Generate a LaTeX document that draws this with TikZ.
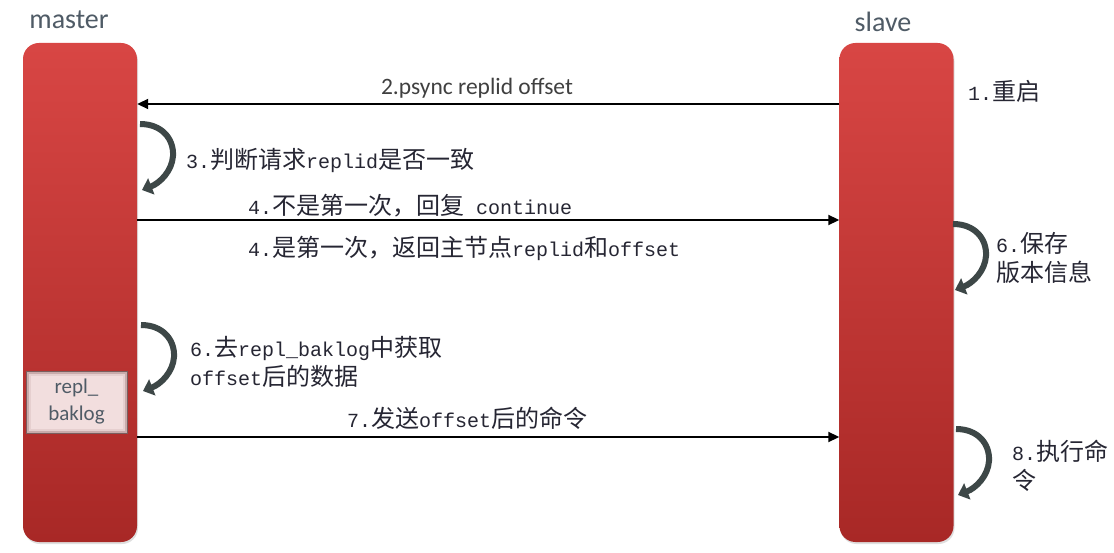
\documentclass[tikz,border=0pt]{standalone}
\usepackage{fontspec}
\setmainfont{Carlito}
\newfontfamily\cjk{Noto Sans CJK SC}
\newfontfamily\mono[Scale=0.8333]{Liberation Mono}
\usetikzlibrary{arrows.meta,shadows,calc}
\definecolor{bartop}{HTML}{D84644}
\definecolor{barbot}{HTML}{A82826}
\definecolor{curvc}{HTML}{3D4747}
\definecolor{txtc}{HTML}{262633}
\definecolor{ttlc}{HTML}{4F5B66}
\definecolor{lblc}{HTML}{404040}
\definecolor{bakfill}{HTML}{F2DEDE}
\definecolor{bakedge}{HTML}{7A5E5E}
\definecolor{bakmid}{HTML}{C9ABAB}
\definecolor{bakin}{HTML}{E6CFCF}
\tikzset{
  bar/.style={rounded corners=16pt, minimum width=114pt, minimum height=499pt,
    top color=bartop, bottom color=barbot, draw=none, inner sep=0,
    drop shadow={shadow xshift=1pt, shadow yshift=-2pt, opacity=0.25, fill=gray}},
  ttl/.style={font=\fontsize{28}{32}\selectfont, text=ttlc, inner sep=0},
  lbl/.style={font=\fontsize{23.5}{28}\selectfont, text=lblc, inner sep=0},
  cn/.style={font=\cjk\fontsize{24}{29}\selectfont, text=txtc, anchor=west, inner sep=0, align=left},
  arr/.style={draw=black, line width=1.8pt, -{Triangle[length=11pt,width=10pt]}},
  curvst/.style={draw=curvc, line width=6pt, -{Triangle[length=10pt,width=17pt]}},
  curv/.pic={\draw[curvst] (0,3) .. controls (22,3) and (34,18) .. (33,35) .. controls (32,50) and (20,62) .. (2,69);}
}
\begin{document}
\begin{tikzpicture}[x=1pt,y=-1pt]
\useasboundingbox (0,0) rectangle (1114,553);
\fill[white] (0,0) rectangle (1114,553);
% bars
\node[bar] (master) at (80,292.5) {};
\node[bar] (slave) at (896.5,292.5) {};
\node[ttl] (mt) at (69,20) {master};
\node[ttl] (st) at (883,22) {slave};
% repl_baklog
\node[fill=bakfill, draw=bakedge, line width=2pt, minimum width=100pt, minimum height=61pt, inner sep=0] (bak) at (76.5,402) {};
\draw[bakmid, line width=2pt] ($(bak.north west)+(2,2)$) rectangle ($(bak.south east)+(-2,-2)$);
\draw[bakin, line width=2pt] ($(bak.north west)+(4,4)$) rectangle ($(bak.south east)+(-4,-4)$);
\node[font=\fontsize{21}{27}\selectfont, text=ttlc, align=center, inner sep=0] (bakt) at (bak.center) {repl\_\\baklog};
% straight arrows
\draw[arr] (slave.west |- 0,104) -- (master.east |- 0,104);
\draw[arr] (master.east |- 0,220) -- (slave.west |- 0,220);
\draw[arr] (master.east |- 0,437) -- (slave.west |- 0,437);
% labels
\node[lbl] (l2) at (477,88) {2.psync replid offset};
\node[cn] (l1) at (968,91) {{\mono 1.}重启};
\node[cn] (l3) at (186,160) {{\mono 3.}判断请求{\mono replid}是否一致};
\node[cn] (l4a) at (248,206) {{\mono 4.}不是第一次，回复{\mono\ continue}};
\node[cn] (l4b) at (248,248) {{\mono 4.}是第一次，返回主节点{\mono replid}和{\mono offset}};
\node[cn] (l6s) at (996,258) {{\mono 6.}保存\\版本信息};
\node[cn] (l6m) at (190,362) {{\mono 6.}去{\mono repl\_baklog}中获取\\{\mono offset}后的数据};
\node[cn] (l7) at (347,418) {{\mono 7.}发送{\mono offset}后的命令};
\node[cn] (l8) at (1012,466) {{\mono 8.}执行命\\令};
% curved arrows
\pic at (140,121) {curv};
\pic at (953,221) {curv};
\pic at (141,322) {curv};
\pic at (956,426) {curv};
\end{tikzpicture}
\end{document}
